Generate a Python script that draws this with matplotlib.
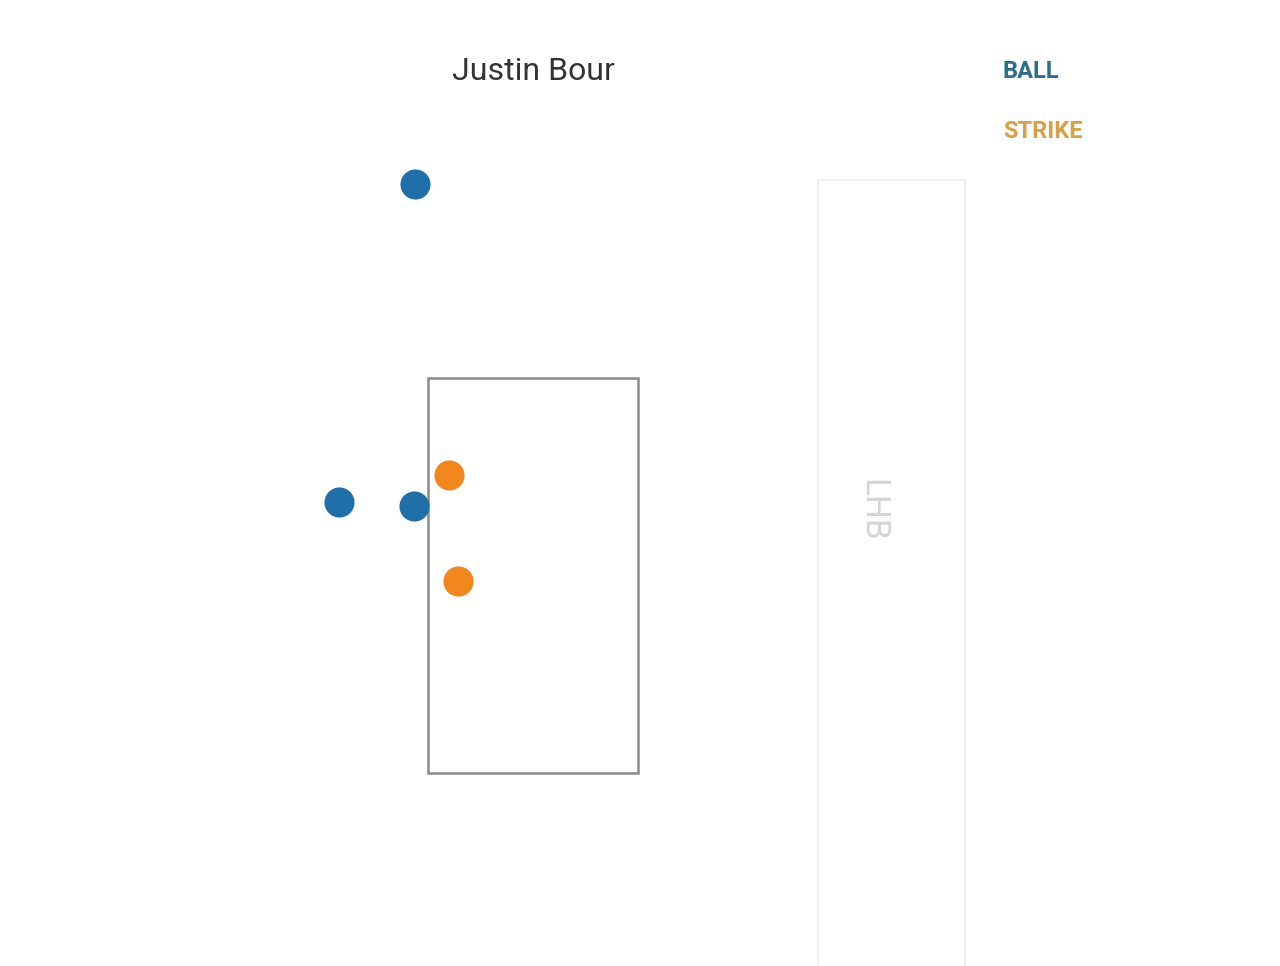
import matplotlib.pyplot as plt
from matplotlib.patches import Rectangle

# pitch locations (feet, catcher's view)
ball_x = [-0.93, -1.53, -0.94]
ball_z = [4.48, 2.87, 2.85]
strike_x = [-0.66, -0.59]
strike_z = [3.01, 2.47]

zone_left = -0.83
zone_right = 0.83
zone_bottom = 1.5
zone_top = 3.5

batter = "Justin Bour"
side = "LHB"


def main():
    plt.rcParams['font.family'] = ['Roboto', 'DejaVu Sans']
    fig = plt.figure(figsize=(12.8, 9.66), dpi=100)
    ax = fig.add_axes([0, 0, 1, 1])
    ax.set_xlim(-4.213, 5.905)
    ax.set_ylim(0.523, 5.414)
    ax.axis('off')

    # batter box
    ax.add_patch(Rectangle((2.253, 0.3), 3.415 - 2.253, 4.503 - 0.3,
                           fill=False, edgecolor='#ececec', linewidth=1.2))
    ax.text(2.68, 2.83, side, rotation=270, color='#d4d4d4',
            fontsize=24, ha='center', va='center')

    # strike zone
    ax.add_patch(Rectangle((zone_left, zone_bottom), zone_right - zone_left,
                           zone_top - zone_bottom, fill=False,
                           edgecolor='#8a8a8a', linewidth=1.8))

    ax.scatter(ball_x, ball_z, s=470, color='#1f6fa8', zorder=3, linewidths=0)
    ax.scatter(strike_x, strike_z, s=470, color='#f0861c', zorder=3, linewidths=0)

    ax.text(0, 5.05, batter, ha='center', va='center', fontsize=23,
            color='#333333')

    fig.text(1003 / 1280, 1 - 72 / 966, "BALL", color='#2a6f8c',
             fontsize=17, fontweight='bold', va='center', ha='left')
    fig.text(1003 / 1280, 1 - 132 / 966, "STRIKE", color='#d9a043',
             fontsize=17, fontweight='bold', va='center', ha='left')

    fig.savefig('out.png', dpi=100)


if __name__ == '__main__':
    main()
